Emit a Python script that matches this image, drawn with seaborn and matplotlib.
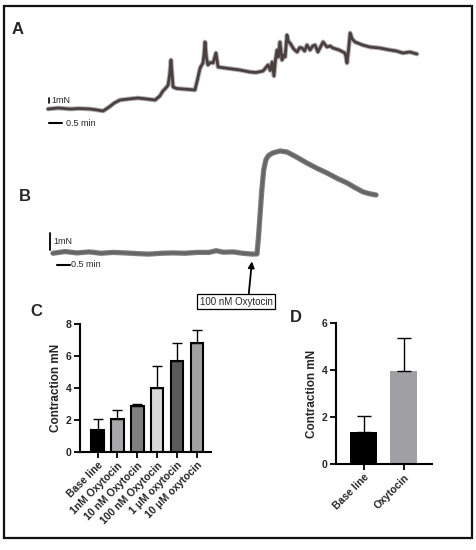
import matplotlib
matplotlib.use("Agg")
import matplotlib.pyplot as plt
from matplotlib.patches import Rectangle
import seaborn as sns

# ---- data ----
# trace A: time (min), force (mN)
trace_a_t = [0, 0.4, 0.85, 1.2, 1.62, 1.9, 2.12, 2.35, 2.55, 2.77, 3.1, 3.46, 3.8,
             4.12, 4.3, 4.42, 4.55, 4.62, 4.68, 4.73, 4.78, 4.81, 4.95, 5.19, 5.45,
             5.65, 5.75, 5.85, 5.96, 6.0, 6.04, 6.09, 6.15, 6.25, 6.35, 6.46, 6.54,
             6.8, 7.1, 7.38, 7.77, 8.0, 8.27, 8.46, 8.55, 8.62, 8.69, 8.75, 8.81,
             8.86, 8.92, 9.00, 9.06, 9.12, 9.19, 9.25, 9.31, 9.45, 9.58, 9.68, 9.77,
             9.87, 9.96, 10.08, 10.18, 10.27, 10.38, 10.48, 10.58, 10.73, 10.85,
             10.96, 11.2, 11.42, 11.46, 11.50, 11.56, 11.62, 11.7, 11.81, 12.1,
             12.38, 12.75, 13.15, 13.4, 13.65, 13.92, 14.19]
trace_a_f = [0.6, 0.8, 0.6, 0.7, 0.6, 0.4, 0.2, 1.0, 1.8, 2.4, 2.6, 2.8, 2.6,
             2.4, 3.2, 4.2, 4.9, 5.4, 7.5, 10.4, 7.0, 5.0, 4.7, 4.6, 4.5,
             4.4, 6.5, 8.8, 9.8, 11.5, 14.0, 11.0, 9.4, 9.9, 9.8, 11.8, 9.0,
             8.8, 8.6, 8.4, 8.0, 7.9, 8.2, 9.4, 8.3, 10.0, 7.2, 10.5, 12.4,
             11.0, 14.0, 10.4, 11.4, 11.0, 15.4, 14.0, 13.8, 12.6, 12.0, 12.9, 12.8,
             12.2, 13.4, 12.4, 13.2, 13.4, 12.0, 13.0, 14.0, 13.0, 13.2,
             12.8, 12.4, 11.8, 11.0, 9.8, 12.5, 15.8, 14.6, 14.0, 13.4,
             13.0, 12.8, 12.4, 12.2, 11.8, 12.0, 11.6]

# trace B: time (min), force (mN)
trace_b_t = [0, 0.5, 1.0, 1.5, 2.0, 2.5, 3.0, 3.5, 4.0, 4.5, 5.0, 5.5, 6.0, 6.5,
             6.8, 7.1, 7.5, 7.9, 8.3, 8.5, 8.56, 8.63, 8.7, 8.78, 8.87, 8.98, 9.15,
             9.46, 9.75, 10.1, 10.58, 11.0, 11.42, 11.85, 12.25, 12.6, 12.92, 13.2,
             13.46]
trace_b_f = [0.1, 0.2, 0.12, 0.18, 0.1, 0.15, 0.12, 0.08, 0.05, 0.1, 0.12, 0.1,
             0.15, 0.15, 0.25, 0.16, 0.18, 0.1, 0.05, 0.06, 1.0, 2.4, 3.8, 5.0, 5.6,
             5.85, 6.0, 6.12, 6.06, 5.8, 5.41, 5.1, 4.82, 4.5, 4.24, 3.95, 3.71,
             3.6, 3.53]
oxytocin_time = 8.29

# panel C
groups_c = ["Base line", "1nM Oxytocin", "10 nM Oxytocin", "100 nM Oxytocin",
            "1 \u03bcM oxytocin", "10 \u03bcM oxytocin"]
means_c = [1.36, 2.05, 2.86, 3.97, 5.70, 6.81]
errs_c = [0.69, 0.60, 0.17, 1.40, 1.11, 0.79]
colors_c = ["#000000", "#a6a6ab", "#7f7f7f", "#d8d8d8", "#5a5a5a", "#a0a0a5"]

# panel D
groups_d = ["Base line", "Oxytocin"]
means_d = [1.37, 3.97]
errs_d = [0.67, 1.41]
colors_d = ["#000000", "#a0a0a4"]

W, H = 477, 550
FONT = ["Liberation Sans", "DejaVu Sans"]


def rect(left, top, right, bottom):
    return [left / W, 1 - bottom / H, (right - left) / W, (bottom - top) / H]


sns.set_style("white")
plt.rcParams["font.family"] = FONT

fig = plt.figure(figsize=(W / 100, H / 100), dpi=100)
fig.patch.set_facecolor("white")
fig.add_artist(Rectangle((4 / W, 1 - 538 / H), 468 / W, 532 / H,
                         transform=fig.transFigure, fill=False, lw=1.6, color="#111111"))

# ---- A ----
ax_a = fig.add_axes(rect(40, 25, 425, 130))
sns.lineplot(x=trace_a_t, y=trace_a_f, ax=ax_a, color="#b4b0b0", lw=3.4, sort=False)
sns.lineplot(x=trace_a_t, y=trace_a_f, ax=ax_a, color="#4a4040", lw=2.0, sort=False)
ax_a.set_xlim(-0.308, 14.5)
ax_a.set_ylim(-3.6, 17.4)
ax_a.plot([0.04, 0.04], [1.8, 2.8], color="black", lw=1.2)
ax_a.text(0.12, 2.3, "1mN", fontsize=6.5, va="center", ha="left")
ax_a.plot([0.04, 0.54], [-2.2, -2.2], color="black", lw=1.5)
ax_a.text(0.68, -2.2, "0.5 min", fontsize=6.5, va="center", ha="left")
ax_a.axis("off")

# ---- B ----
ax_b = fig.add_axes(rect(40, 135, 425, 275))
sns.lineplot(x=trace_b_t, y=trace_b_f, ax=ax_b, color="#808080", lw=3.8, sort=False)
sns.lineplot(x=trace_b_t, y=trace_b_f, ax=ax_b, color="#666666", lw=2.2, sort=False)
ax_b.set_xlim(-0.54, 15.5)
ax_b.set_ylim(-1.18, 7.06)
ax_b.plot([-0.125, -0.125], [0.29, 1.29], color="black", lw=1.3)
ax_b.text(0.0, 0.8, "1mN", fontsize=6.5, va="center", ha="left")
ax_b.plot([0.17, 0.71], [-0.59, -0.59], color="black", lw=1.5)
ax_b.text(0.75, -0.59, "0.5 min", fontsize=6.5, va="center", ha="left")
ax_b.annotate("100 nM Oxytocin", xy=(oxytocin_time, -0.38), xytext=(7.63, -2.75),
              fontsize=7, ha="center", va="center", annotation_clip=False,
              bbox=dict(boxstyle="square,pad=0.25", fc="white", ec="black", lw=0.9),
              arrowprops=dict(arrowstyle="-|>", color="black", lw=1.3,
                              mutation_scale=9, shrinkA=0, shrinkB=0,
                              relpos=(0.67, 1.0)))
ax_b.axis("off")


def bar_panel(ax, groups, means, errs, colors, ymax, xlim, width, edge_lw, cap):
    sns.barplot(x=groups, y=means, hue=groups, palette=colors, legend=False,
                width=width, edgecolor="black", linewidth=edge_lw, ax=ax)
    ax.errorbar(range(len(groups)), means, yerr=[[0] * len(errs), errs], fmt="none",
                ecolor="black", elinewidth=1.0, capsize=cap, capthick=1.0, zorder=1)
    ax.set_ylim(0, ymax)
    ax.set_xlim(*xlim)
    ax.set_yticks(range(0, ymax + 1, 2))
    ax.set_xlabel("")
    ax.set_ylabel("Contraction mN", fontsize=8.5, fontweight="bold", labelpad=3)
    for s in ["top", "right"]:
        ax.spines[s].set_visible(False)
    for s in ["left", "bottom"]:
        ax.spines[s].set_linewidth(1.5)
        ax.spines[s].set_color("black")
    ax.tick_params(axis="both", length=4, width=1.3, color="black", direction="out",
                   labelsize=7.5, pad=2, left=True, bottom=True)
    for lab in ax.get_yticklabels():
        lab.set_fontweight("bold")
    ax.set_xticks(range(len(groups)))
    ax.set_xticklabels(groups, rotation=45, ha="right", rotation_mode="anchor",
                       fontweight="bold")


# ---- C ----
ax_c = fig.add_axes(rect(80, 324, 211, 452))
bar_panel(ax_c, groups_c, means_c, errs_c, colors_c, 8, (-0.88, 5.7), 0.62, 1.5, 3.5)

# ---- D ----
ax_d = fig.add_axes(rect(336, 323, 432, 464))
bar_panel(ax_d, groups_d, means_d, errs_d, colors_d, 6, (-0.69, 1.71), 0.675, 0, 5)

# panel letters
for letter, x, y in [("A", 18, 30), ("B", 25, 196), ("C", 36, 311), ("D", 296, 318)]:
    fig.text(x / W, 1 - y / H, letter, fontsize=12, fontweight="bold",
             ha="center", va="center")

fig.savefig("out.png", dpi=100)
